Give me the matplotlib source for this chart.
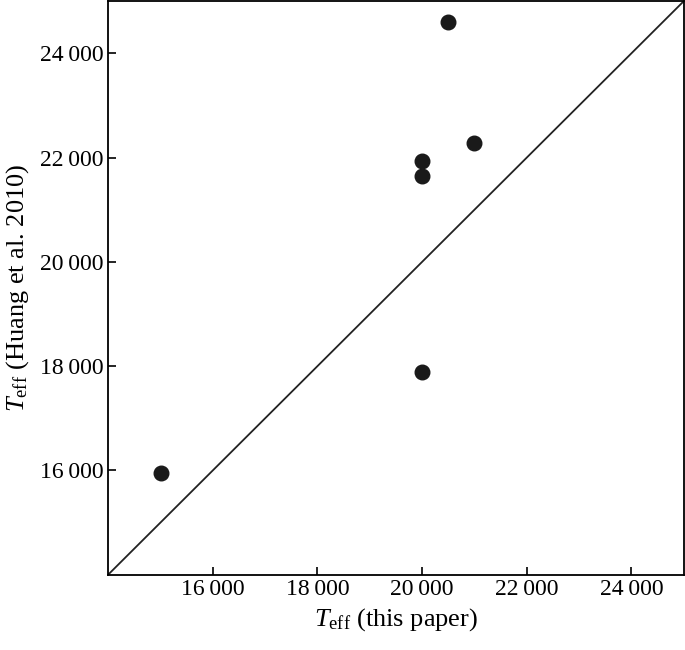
import matplotlib.pyplot as plt
from matplotlib.ticker import FuncFormatter

plt.rcParams['font.family'] = ['Liberation Serif', 'DejaVu Serif']
plt.rcParams['mathtext.fontset'] = 'custom'
plt.rcParams['mathtext.it'] = 'Liberation Serif:italic'
plt.rcParams['mathtext.rm'] = 'Liberation Serif'

teff_this = [15000, 20000, 20000, 20000, 20500, 21000]
teff_huang = [15950, 17880, 21640, 21930, 24600, 22280]
ticks = [16000, 18000, 20000, 22000, 24000]

fig = plt.figure(figsize=(6.85, 6.5), dpi=100)
ax = fig.add_axes([0.158, 0.116, 0.84, 0.882])
ax.plot([14000, 25000], [14000, 25000], color='#222222', lw=1.3)
ax.scatter(teff_this, teff_huang, s=110, color='#1a1a1a', zorder=3)
ax.set_xlim(14000, 25000)
ax.set_ylim(14000, 25000)
ax.set_xticks(ticks)
ax.set_yticks(ticks)
fmt = FuncFormatter(lambda v, p: f"{int(v) // 1000}\u2009{int(v) % 1000:03d}")
ax.xaxis.set_major_formatter(fmt)
ax.yaxis.set_major_formatter(fmt)
ax.tick_params(direction='in', length=6, labelsize=17, width=1.2)
for s in ax.spines.values():
    s.set_linewidth(1.3)
ax.set_xlabel(r'$T_{\rm eff}$ (this paper)', fontsize=19, labelpad=4)
ax.set_ylabel(r'$T_{\rm eff}$ (Huang et al. 2010)', fontsize=19, labelpad=6)
fig.savefig('out.png', dpi=100)
